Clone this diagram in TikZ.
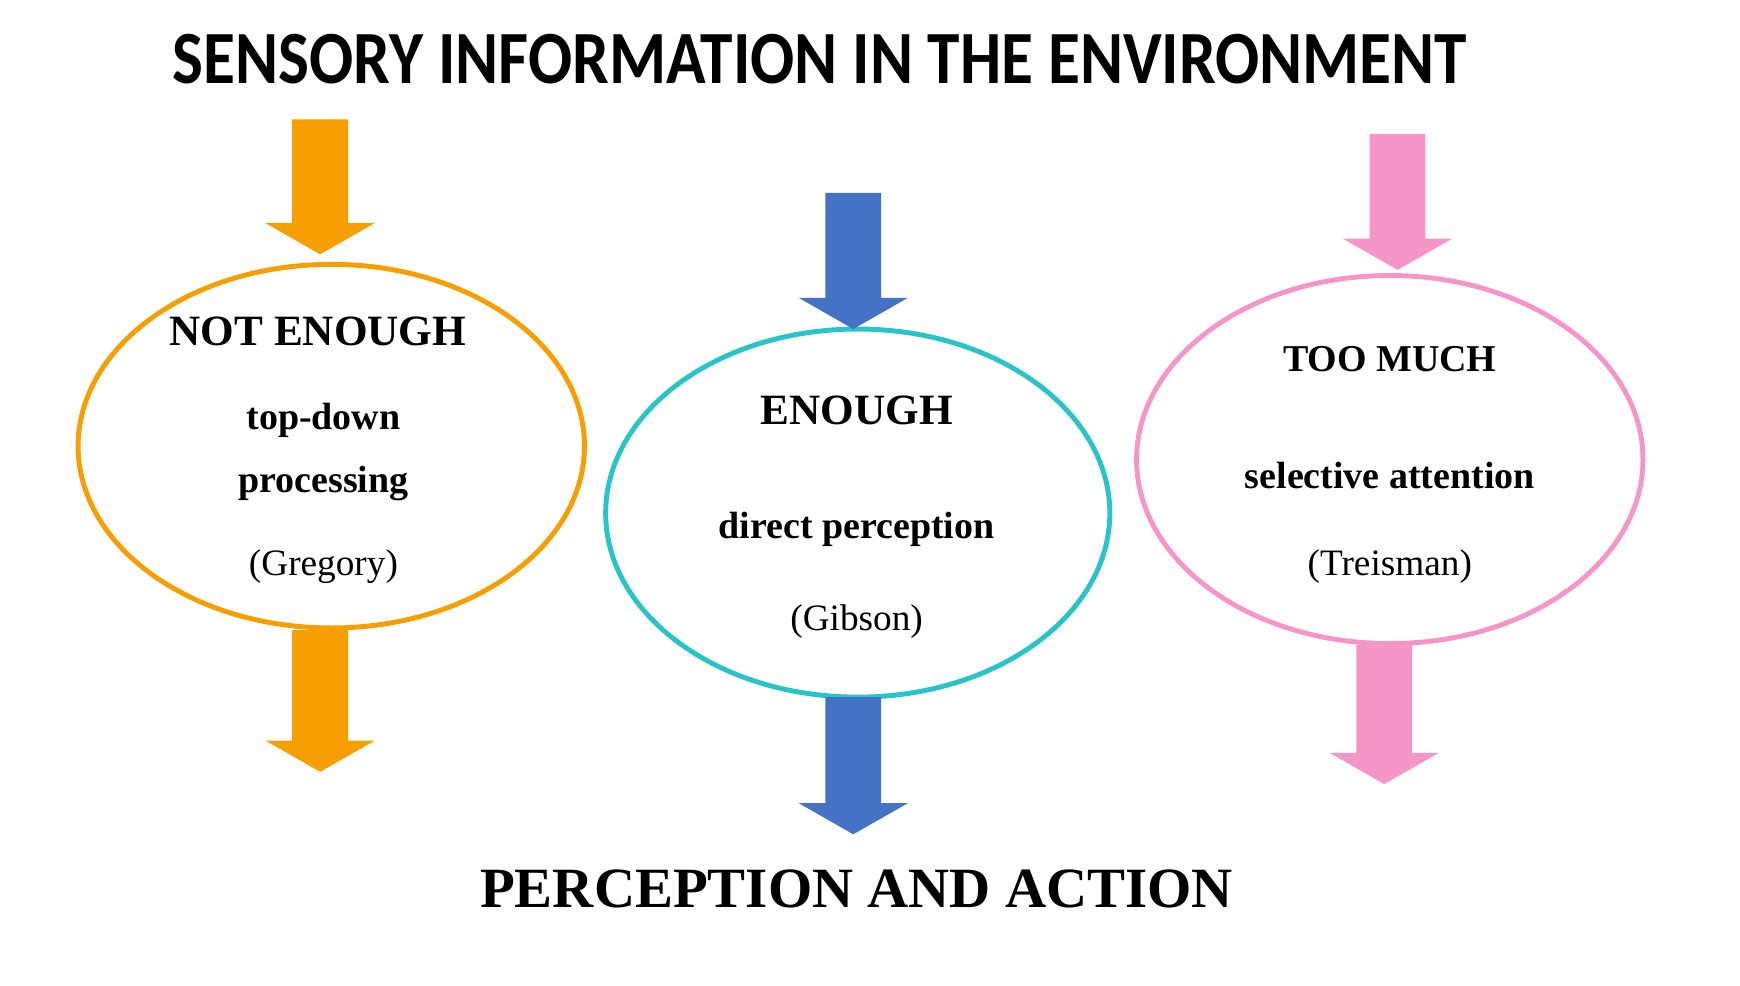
\documentclass[tikz,border=0pt]{standalone}
\usepackage{fontspec}
\setmainfont{Liberation Serif}
\newfontfamily\titlefont{Carlito}
\usetikzlibrary{positioning}
\definecolor{myorange}{RGB}{247,158,0}
\definecolor{myblue}{RGB}{68,114,196}
\definecolor{mycyan}{RGB}{40,196,200}
\definecolor{mypink}{RGB}{246,150,200}
% block arrow: centre x, top y, tip y, colour
\newcommand{\blockarrow}[4]{%
  \fill[#4] (#1-25,#2) -- (#1+25,#2) -- (#1+25,#3-28) -- (#1+49,#3-28)
    -- (#1,#3) -- (#1-49,#3-28) -- (#1-25,#3-28) -- cycle;}
\begin{document}
\begin{tikzpicture}[x=0.011154cm,y=-0.011154cm,
  head/.style={font=\bfseries\fontsize{12.3}{15}\selectfont},
  body/.style={font=\bfseries\fontsize{10.8}{14}\selectfont,align=center},
  author/.style={font=\fontsize{10.6}{14}\selectfont}]
\useasboundingbox (0,0) rectangle (1560,884);

\node[font=\titlefont\bfseries\fontsize{18.6}{22}\selectfont,yscale=1.15] (T) at (735,53) {SENSORY INFORMATION IN THE ENVIRONMENT};
\node[font=\bfseries\fontsize{16.2}{20}\selectfont] (B) at (768,797) {PERCEPTION AND ACTION};

% ovals
\draw[myorange,line width=1.4pt] (297,400) ellipse [x radius=227, y radius=163];
\draw[mycyan,line width=1.4pt] (769,460) ellipse [x radius=226, y radius=165];
\draw[mypink,line width=1.4pt] (1246,412) ellipse [x radius=227, y radius=165];

% arrows
\blockarrow{287}{107}{228}{myorange}
\blockarrow{287}{565}{692}{myorange}
\blockarrow{765}{173}{295}{myblue}
\blockarrow{765}{625}{748}{myblue}
\blockarrow{1253}{120}{242}{mypink}
\blockarrow{1241}{578}{703}{mypink}

% texts
\node[head] (NE) at (285,297) {NOT ENOUGH};
\node[body] (TD) at (290,405) {top-down\\[4pt]processing};
\node[author] (G) at (290,508) {(Gregory)};
\node[head] (E) at (768,368) {ENOUGH};
\node[body] (DP) at (768,475) {direct perception};
\node[author] (Gi) at (768,557) {(Gibson)};
\node[body] (TM) at (1246,322) {TOO MUCH};
\node[body] (SA) at (1246,426) {selective attention};
\node[author] (Tr) at (1246,508) {(Treisman)};
\end{tikzpicture}
\end{document}
